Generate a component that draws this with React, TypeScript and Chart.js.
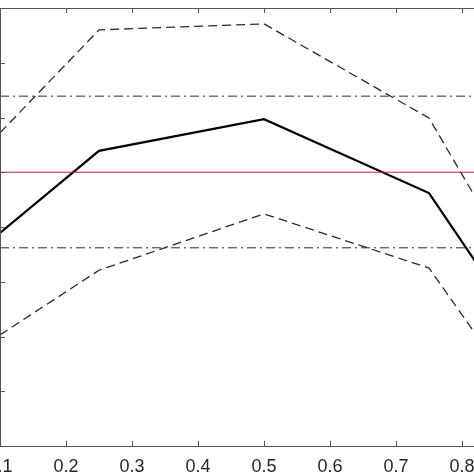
import React, { useEffect, useRef } from "react";
import { Chart, registerables } from "chart.js";

Chart.register(...registerables);

const xValues = [0.1, 0.25, 0.5, 0.75, 0.9];
const meanValues = [3.89, 5.39, 5.97, 4.62, 1.95];
const upperValues = [5.72, 7.6, 7.71, 5.99, 2.9];
const lowerValues = [2.03, 3.21, 4.24, 3.25, 0.69];
const refX = [0.1, 0.9];
const centerLine = [5.0, 5.0];
const upperLimit = [6.39, 6.39];
const lowerLimit = [3.62, 3.62];
const xTicks = [0.1, 0.2, 0.3, 0.4, 0.5, 0.6, 0.7, 0.8, 0.9];

const pts = (xs: number[], ys: number[]) => xs.map((x, i) => ({ x, y: ys[i] }));

const boxPlugin = {
  id: "matlabBox",
  afterDraw(chart: any) {
    const { ctx, chartArea } = chart;
    const xs = chart.scales.x;
    const ys = chart.scales.y;
    ctx.save();
    ctx.strokeStyle = "#555555";
    ctx.lineWidth = 1;
    ctx.beginPath();
    ctx.rect(chartArea.left + 0.5, chartArea.top + 0.5, chartArea.right - chartArea.left, chartArea.bottom - chartArea.top);
    ctx.stroke();
    ctx.beginPath();
    xs.ticks.forEach((t: any) => {
      const px = Math.round(xs.getPixelForValue(t.value)) + 0.5;
      ctx.moveTo(px, chartArea.bottom);
      ctx.lineTo(px, chartArea.bottom - 5);
      ctx.moveTo(px, chartArea.top);
      ctx.lineTo(px, chartArea.top + 5);
    });
    ys.ticks.forEach((t: any) => {
      const py = Math.round(ys.getPixelForValue(t.value)) + 0.5;
      ctx.moveTo(chartArea.left, py);
      ctx.lineTo(chartArea.left + 5, py);
      ctx.moveTo(chartArea.right, py);
      ctx.lineTo(chartArea.right - 5, py);
    });
    ctx.stroke();
    ctx.restore();
  },
};

export default function App() {
  const ref = useRef<HTMLCanvasElement | null>(null);
  useEffect(() => {
    if (!ref.current) return;
    const chart = new Chart(ref.current, {
      type: "line",
      data: {
        datasets: [
          {
            data: pts(refX, upperLimit),
            borderColor: "#2a2a2a",
            borderWidth: 1,
            borderDash: [9, 4, 2, 4],
            pointRadius: 0,
          },
          {
            data: pts(refX, lowerLimit),
            borderColor: "#2a2a2a",
            borderWidth: 1,
            borderDash: [9, 4, 2, 4],
            pointRadius: 0,
          },
          {
            data: pts(refX, centerLine),
            borderColor: "#c8202e",
            borderWidth: 1,
            pointRadius: 0,
          },
          {
            data: pts(xValues, upperValues),
            borderColor: "#2a2a2a",
            borderWidth: 1.3,
            borderDash: [9, 5],
            pointRadius: 0,
          },
          {
            data: pts(xValues, lowerValues),
            borderColor: "#2a2a2a",
            borderWidth: 1.3,
            borderDash: [9, 5],
            pointRadius: 0,
          },
          {
            data: pts(xValues, meanValues),
            borderColor: "#000000",
            borderWidth: 2.2,
            pointRadius: 0,
          },
        ],
      },
      options: {
        animation: false,
        responsive: false,
        devicePixelRatio: 1,
        layout: { padding: { left: 60, right: 72, top: 8, bottom: 0 } },
        plugins: { legend: { display: false }, tooltip: { enabled: false } },
        scales: {
          x: {
            type: "linear",
            min: 0.1,
            max: 0.9,
            afterBuildTicks: (s: any) => {
              s.ticks = xTicks.map((v) => ({ value: v }));
            },
            afterFit: (s: any) => {
              s.height = 40;
            },
            ticks: {
              padding: 2,
              color: "#262626",
              font: { family: "'Liberation Sans', Arial, sans-serif", size: 18 },
              callback: (v: any) => Number(v).toFixed(1),
              maxRotation: 0,
              autoSkip: false,
            },
            grid: { display: false },
            border: { display: false },
          },
          y: {
            display: false,
            min: 0,
            max: 8,
            ticks: { stepSize: 1 },
          },
        },
      },
      plugins: [boxPlugin],
    });
    return () => chart.destroy();
  }, []);
  return (
    <div style={{ position: "fixed", left: 0, top: 0, width: 474, height: 474, overflow: "hidden", background: "#fff" }}>
      <canvas
        ref={ref}
        width={660}
        height={486}
        style={{ position: "absolute", left: -60, top: 0, width: 660, height: 486 }}
      />
    </div>
  );
}
